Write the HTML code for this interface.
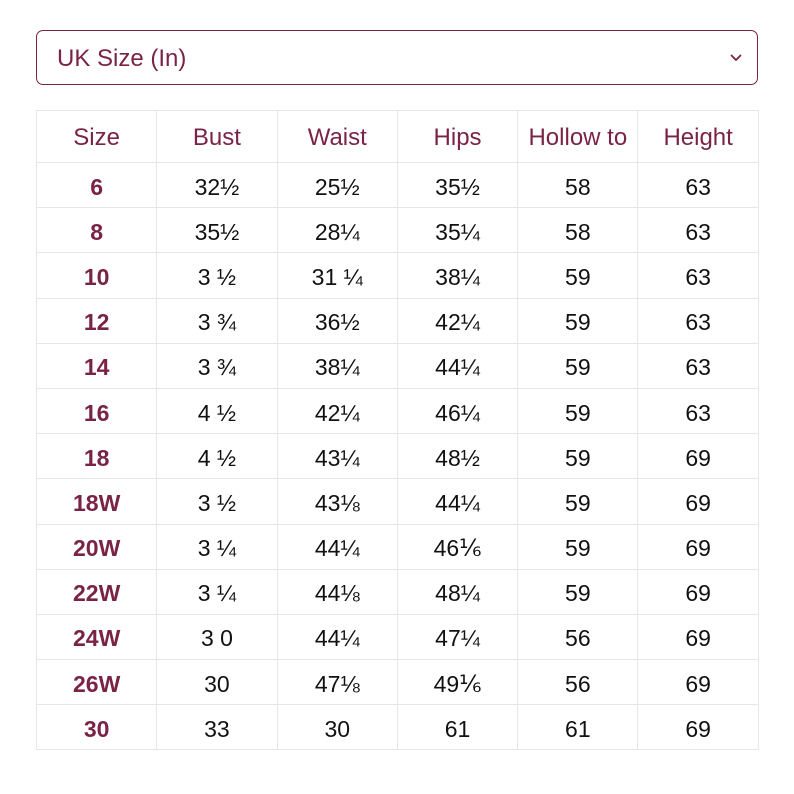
<!DOCTYPE html>
<html><head><style>
body{margin:0;width:794px;height:794px;background:#fff;font-family:"Liberation Sans",sans-serif;position:relative;overflow:hidden}
.sel{position:absolute;left:36px;top:30px;width:722px;height:55px;border:1.5px solid #7a2445;border-radius:7px;box-sizing:border-box}
.sel span{position:absolute;left:20px;top:14px;font-size:24px;color:#7a2445}
.sel svg{position:absolute;right:14px;top:22px}
table{position:absolute;left:36px;top:110px;border-collapse:collapse;table-layout:fixed}
td{border:1px solid #e6e6e6;width:119.3px;height:41.2px;text-align:center;font-size:23px;color:#111;padding:3px 0 0 0;line-height:26px}
tr.h td{height:48px;color:#7a2445;font-size:24px;padding-top:3px}
td:first-child{color:#7a2445;font-weight:bold}
tr.h td:first-child{font-weight:normal}
</style></head><body>
<div class="sel"><span>UK Size (In)</span><svg width="14" height="10" viewBox="0 0 14 10"><path d="M2 2 L7 7 L12 2" fill="none" stroke="#7a2445" stroke-width="1.8"/></svg></div>
<table>
<tr class="h"><td>Size</td><td>Bust</td><td>Waist</td><td>Hips</td><td>Hollow to</td><td>Height</td></tr>
<tr><td>6</td><td>32½</td><td>25½</td><td>35½</td><td>58</td><td>63</td></tr>
<tr><td>8</td><td>35½</td><td>28¼</td><td>35¼</td><td>58</td><td>63</td></tr>
<tr><td>10</td><td>3 ½</td><td>31 ¼</td><td>38¼</td><td>59</td><td>63</td></tr>
<tr><td>12</td><td>3 ¾</td><td>36½</td><td>42¼</td><td>59</td><td>63</td></tr>
<tr><td>14</td><td>3 ¾</td><td>38¼</td><td>44¼</td><td>59</td><td>63</td></tr>
<tr><td>16</td><td>4 ½</td><td>42¼</td><td>46¼</td><td>59</td><td>63</td></tr>
<tr><td>18</td><td>4 ½</td><td>43¼</td><td>48½</td><td>59</td><td>69</td></tr>
<tr><td>18W</td><td>3 ½</td><td>43⅛</td><td>44¼</td><td>59</td><td>69</td></tr>
<tr><td>20W</td><td>3 ¼</td><td>44¼</td><td>46⅙</td><td>59</td><td>69</td></tr>
<tr><td>22W</td><td>3 ¼</td><td>44⅛</td><td>48¼</td><td>59</td><td>69</td></tr>
<tr><td>24W</td><td>3 0</td><td>44¼</td><td>47¼</td><td>56</td><td>69</td></tr>
<tr><td>26W</td><td>30</td><td>47⅛</td><td>49⅙</td><td>56</td><td>69</td></tr>
<tr><td>30</td><td>33</td><td>30</td><td>61</td><td>61</td><td>69</td></tr>
</table>
</body></html>
